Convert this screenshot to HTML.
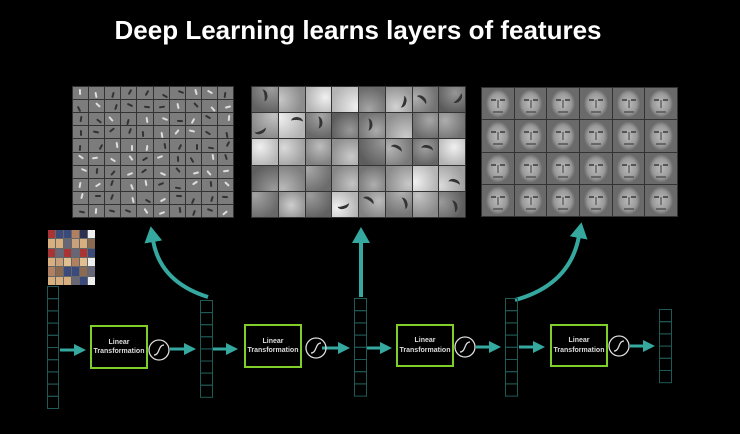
<!DOCTYPE html>
<html><head><meta charset="utf-8"><style>
html,body{margin:0;padding:0;background:#000;width:740px;height:434px;overflow:hidden;position:relative;font-family:"Liberation Sans",sans-serif}
.title{position:absolute;left:0;width:716px;top:15px;text-align:center;color:#fff;font-weight:bold;font-size:26px}
.panel{position:absolute;background:#333;display:grid;gap:1px;padding:1px;box-sizing:border-box}
.panel div{background:#7a7a7a;position:relative;overflow:hidden}
.box{position:absolute;border:2px solid #7fce2a;color:#ddd;font-size:7px;font-weight:bold;text-align:center;display:flex;align-items:center;justify-content:center;line-height:1.3;box-sizing:border-box}
</style></head><body>
<div class="title">Deep Learning learns layers of features</div>
<div id="p1" class="panel" style="left:72px;top:86px;width:162px;height:132px;grid-template-columns:repeat(10,1fr);grid-template-rows:repeat(10,1fr)"></div>
<div id="p2" class="panel" style="left:251px;top:86px;width:215px;height:132px;grid-template-columns:repeat(8,1fr);grid-template-rows:repeat(5,1fr)"></div>
<div id="p3" class="panel" style="left:481px;top:87px;width:197px;height:130px;grid-template-columns:repeat(6,1fr);grid-template-rows:repeat(4,1fr)"></div>
<div id="p0" class="panel" style="left:48px;top:230px;width:47px;height:55px;grid-template-columns:repeat(6,1fr);grid-template-rows:repeat(6,1fr);gap:1px;padding:0;background:#666"></div>
<div class="box" style="left:90px;top:325px;width:58px;height:44px">Linear<br>Transformation</div>
<div class="box" style="left:244px;top:324px;width:58px;height:44px">Linear<br>Transformation</div>
<div class="box" style="left:396px;top:324px;width:58px;height:43px">Linear<br>Transformation</div>
<div class="box" style="left:550px;top:324px;width:58px;height:43px">Linear<br>Transformation</div>
<svg width="740" height="434" style="position:absolute;left:0;top:0" id="s">
<defs>
<marker id="a" markerUnits="userSpaceOnUse" markerWidth="16" markerHeight="18" refX="2" refY="9" orient="auto"><path d="M0,0 L16,9 L0,18 z" fill="#35a9a0"/></marker>
<marker id="b" markerUnits="userSpaceOnUse" markerWidth="12" markerHeight="12" refX="2" refY="6" orient="auto"><path d="M0,0 L12,6 L0,12 z" fill="#35a9a0"/></marker>
</defs>
<g fill="none" stroke="#35a9a0" stroke-width="4">
<path d="M208,297 Q160,282 153,240" marker-end="url(#a)"/>
<path d="M361,297 L361,241" marker-end="url(#a)"/>
<path d="M515,300 Q570,285 579,236" marker-end="url(#a)"/>
</g>
<g stroke="#35a9a0" stroke-width="3" marker-end="url(#b)">
<line x1="60" y1="350" x2="76" y2="350"/><line x1="170" y1="349" x2="186" y2="349"/>
<line x1="213" y1="349" x2="228" y2="349"/><line x1="322" y1="348" x2="340" y2="348"/>
<line x1="367" y1="348" x2="382" y2="348"/><line x1="476" y1="347" x2="491" y2="347"/>
<line x1="519" y1="347" x2="535" y2="347"/><line x1="630" y1="346" x2="645" y2="346"/>
</g>
<g fill="none" stroke="#ddd" stroke-width="1.3">
<circle cx="159" cy="350" r="10"/><circle cx="316" cy="348" r="10"/><circle cx="465" cy="347" r="10"/><circle cx="619" cy="346" r="10"/>
<path d="M154,355 C160,355 158,345 164,345"/><path d="M311,353 C317,353 315,343 321,343"/><path d="M460,352 C466,352 464,342 470,342"/><path d="M614,351 C620,351 618,341 624,341"/>
</g>
<g id="cols" fill="none" stroke="#1f5a56" stroke-width="1"></g>
</svg>
<script>
function col(x,y,w,n,h){let g=document.getElementById('cols');for(let i=0;i<n;i++){let r=document.createElementNS('http://www.w3.org/2000/svg','rect');r.setAttribute('x',x+.5);r.setAttribute('y',y+i*h+.5);r.setAttribute('width',w);r.setAttribute('height',h);g.appendChild(r);}}
col(47,286,11,10,12.2);col(200,300,12,8,12.1);col(354,298,12,8,12.2);col(505,298,12,8,12.2);col(659,309,12,6,12.2);
let seed=7;function rnd(){seed=(seed*9301+49297)%233280;return seed/233280;}
let p1=document.getElementById('p1');
for(let i=0;i<100;i++){let d=document.createElement('div');d.style.background='#7c7c7c';let a=Math.floor(rnd()*180);let c=rnd()<.5?'#333':'#ddd';d.innerHTML='<span style="position:absolute;left:'+(3+rnd()*6)+'px;top:'+(3+rnd()*5)+'px;width:6px;height:2px;border-radius:1px;background:'+c+';transform:rotate('+a+'deg)"></span>';p1.appendChild(d);}
let p2=document.getElementById('p2');
for(let i=0;i<40;i++){let d=document.createElement('div');let l=110+Math.floor(rnd()*70);if(rnd()<.12)l=200;let x=Math.floor(rnd()*100),y=Math.floor(rnd()*100);d.style.background='radial-gradient(circle at '+x+'% '+y+'%, rgb('+(l+40)+','+(l+40)+','+(l+40)+'), rgb('+(l-20)+','+(l-20)+','+(l-20)+') 80%)';if(rnd()<.4)d.innerHTML='<span style="position:absolute;left:'+(2+rnd()*10)+'px;top:'+(4+rnd()*10)+'px;width:12px;height:6px;border-top:3px solid #333;border-radius:50%;transform:rotate('+Math.floor(rnd()*180)+'deg)"></span>';p2.appendChild(d);}
let p3=document.getElementById('p3');
for(let i=0;i<24;i++){let d=document.createElement('div');d.style.background='radial-gradient(ellipse 38% 46% at 50% 50%, #bbb, #999 70%, #6a6a6a 100%)';d.innerHTML='<span style="position:absolute;left:9px;top:11px;width:5px;height:2px;background:#555"></span><span style="position:absolute;left:18px;top:11px;width:5px;height:2px;background:#555"></span><span style="position:absolute;left:15px;top:12px;width:2px;height:8px;background:#777"></span><span style="position:absolute;left:11px;top:23px;width:10px;height:2px;background:#666"></span>';p3.appendChild(d);}
let p0=document.getElementById('p0');const cs=['#c9a27a','#3a4a7a','#8a6a50','#e0c090','#2a3050','#b08060','#667','#d8b080','#eee','#a33'];
for(let i=0;i<36;i++){let d=document.createElement('div');d.style.background=cs[Math.floor(rnd()*cs.length)];p0.appendChild(d);}
</script>
</body></html>
